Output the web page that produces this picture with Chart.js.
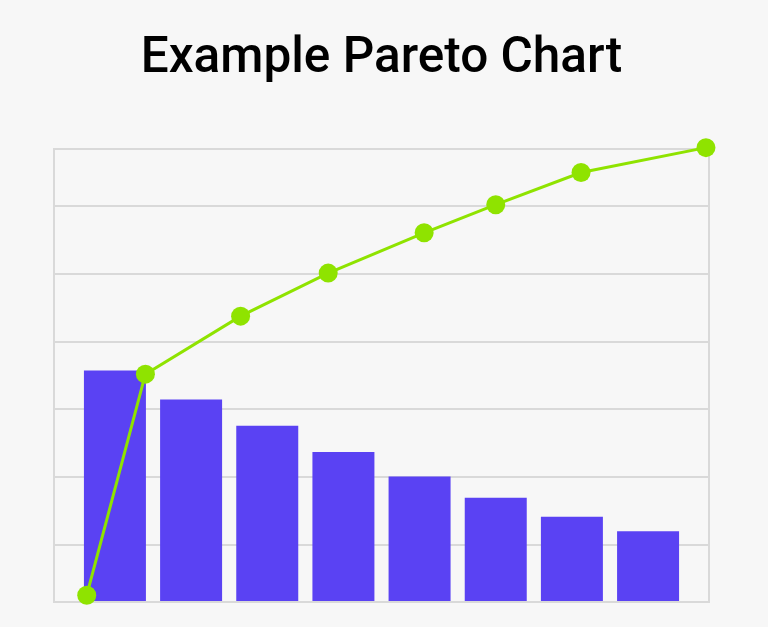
<!DOCTYPE html>
<html>
<head>
<meta charset="utf-8">
<script src="https://cdn.jsdelivr.net/npm/chart.js@4/dist/chart.umd.min.js"></script>
<style>
  html, body { margin: 0; padding: 0; background: #f7f7f7; }
  #wrap { width: 768px; height: 627px; }
</style>
</head>
<body>
<div id="wrap"><canvas id="c" width="768" height="627"></canvas></div>
<script>
const titleText = "Example Pareto Chart";
const categories = ["A", "B", "C", "D", "E", "F", "G", "H"];
const categoryPositions = [1, 2, 3, 4, 5, 6, 7, 8];
const barValues = [51.1, 44.7, 38.9, 33.1, 27.7, 23.0, 18.8, 15.6];
const cumulativeX = [0.63, 1.40, 2.65, 3.80, 5.06, 6.00, 7.12, 8.76];
const cumulativeValues = [1.5, 50.3, 63.1, 72.6, 81.5, 87.7, 94.8, 100.3];
const gridValues = [0, 12.5, 27.5, 42.5, 57.5, 72.5, 87.5, 100];

const barData = categoryPositions.map((x, i) => ({ x: x, y: barValues[i] }));
const lineData = cumulativeX.map((x, i) => ({ x: x, y: cumulativeValues[i] }));

const gridColor = "#d9d9d9";

new Chart(document.getElementById("c"), {
  type: "bar",
  data: {
    datasets: [
      {
        type: "line",
        label: "Cumulative",
        data: lineData,
        borderColor: "#8fe300",
        backgroundColor: "#8fe300",
        borderWidth: 3,
        pointRadius: 9.5,
        pointHoverRadius: 9.5,
        pointBorderWidth: 0,
        tension: 0,
        clip: false,
        order: 0
      },
      {
        type: "bar",
        label: "Count",
        data: barData,
        backgroundColor: "#5a42f3",
        borderWidth: 0,
        categoryPercentage: 1,
        barPercentage: 0.814,
        order: 1
      }
    ]
  },
  options: {
    responsive: false,
    animation: false,
    layout: { padding: { left: 54, right: 59, top: 0, bottom: 25 } },
    plugins: {
      legend: { display: false },
      tooltip: { enabled: false },
      title: {
        display: true,
        text: titleText,
        color: "#000000",
        font: { family: "Roboto", size: 49.5, weight: "500", lineHeight: 1.2 },
        padding: { top: 30, bottom: 59.6 }
      }
    },
    scales: {
      x: {
        type: "linear",
        min: 0.2,
        max: 8.8,
        offset: false,
        afterBuildTicks: (scale) => { scale.ticks = categoryPositions.map(v => ({ value: v })); },
        grid: { display: false, drawTicks: false },
        border: { display: true, color: gridColor, width: 2 },
        ticks: { display: false }
      },
      y: {
        type: "linear",
        min: 0,
        max: 100,
        afterBuildTicks: (scale) => { scale.ticks = gridValues.map(v => ({ value: v })); },
        grid: { color: gridColor, lineWidth: 2, drawTicks: false },
        border: { display: true, color: gridColor, width: 2 },
        ticks: { display: false }
      },
      y2: {
        type: "linear",
        position: "right",
        min: 0,
        max: 100,
        grid: { display: false, drawTicks: false },
        border: { display: true, color: gridColor, width: 2 },
        ticks: { display: false }
      }
    }
  }
});
</script>
</body>
</html>
